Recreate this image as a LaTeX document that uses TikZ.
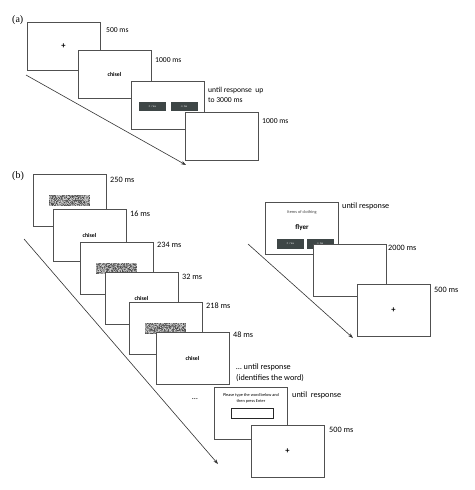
\documentclass[tikz,border=0pt]{standalone}
\usepackage{fontspec}
\setmainfont{Carlito}
\newfontfamily\serifpanel{Liberation Serif}
\usetikzlibrary{arrows.meta}
\definecolor{btn}{RGB}{62,70,70}
\definecolor{frame}{RGB}{80,80,80}
\tikzset{
  scr/.style={draw=frame, line width=1pt, fill=white, minimum width=73pt, minimum height=#1, anchor=north west, inner sep=0pt, outer sep=0pt},
  scr/.default=52pt,
  lab/.style={anchor=base west, inner sep=0pt, font=\fontsize{7.6}{9}\selectfont},
  labb/.style={anchor=base west, inner sep=0pt, font=\fontsize{8.2}{9}\selectfont},
  panel/.style={anchor=base west, inner sep=0pt, font=\serifpanel\fontsize{10}{10}\selectfont},
  word/.style={font=\bfseries\fontsize{5.8}{6}\selectfont, inner sep=0pt},
  btnbox/.style={fill=btn, minimum width=27pt, minimum height=9pt, inner sep=0pt, text=white, font=\fontsize{2.6}{3}\selectfont},
  fix/.style={font=\bfseries\fontsize{8.5}{8}\selectfont, inner sep=0pt},
  arr/.style={draw=black!80, line width=0.6pt, -{Stealth[length=5pt,width=3.5pt]}},
}
\newcommand\noisepatch[1]{%
  \begin{scope}[shift={(#1)}]
    \fill[black!40] (-20.5,-5.5) rectangle (20.5,5.5);
    \foreach \i in {0,...,40}{\foreach \j in {0,...,10}{%
      \pgfmathsetmacro\g{int(18+55*rnd)}%
      \fill[black!\g] (-20.5+\i,-5.5+\j) rectangle ++(1,1);
    }}
  \end{scope}}
\begin{document}
\begin{tikzpicture}[x=1pt,y=-1pt]
\pgfmathsetseed{7}
\useasboundingbox[fill=white] (0,0) rectangle (474,490);

% ---------- (a)
\node[panel] (pa) at (12,22) {(a)};
\coordinate (aS) at (26,75);
\coordinate (aE) at (186,165);
\draw[arr] (aS) -- (aE);

\node[scr=48pt] (a1) at (27,22) {};
\node[fix] (a1c) at (a1.center) {+};
\node[lab] (a1l) at (106,32.5) {500 ms};

\node[scr=48pt] (a2) at (78,50) {};
\node[word] (a2c) at (a2.center) {chisel};
\node[lab] (a2l) at (155,62) {1000 ms};

\node[scr=48pt] (a3) at (131,81) {};
\node[btnbox] (a3y) at (152.5,106.5) {F = Yes};
\node[btnbox] (a3n) at (184,106.5) {J = No};
\node[lab] (a3l) at (208,92) {until response\ \ up};
\node[lab] (a3m) at (208,102) {to 3000 ms};

\node[scr=48pt] (a4) at (185.5,112) {};
\node[lab] (a4l) at (262,123.5) {1000 ms};

% ---------- (b)
\node[panel] (pb) at (12,178) {(b)};
\coordinate (bS) at (24,239);
\coordinate (bE) at (218,464);
\draw[arr] (bS) -- (bE);
\coordinate (rS) at (248,244);
\coordinate (rE) at (353,338);
\draw[arr] (rS) -- (rE);

\node[scr] (b1) at (33,174) {};
\noisepatch{b1.center}
\node[labb] (b1l) at (110,182) {250 ms};

\node[scr] (b2) at (53,209) {};
\node[word] (b2c) at (b2.center) {chisel};
\node[labb] (b2l) at (130,216) {16 ms};

\node[scr] (b3) at (80,242) {};
\noisepatch{b3.center}
\node[labb] (b3l) at (157,247.5) {234 ms};

\node[scr] (b4) at (105,272) {};
\node[word] (b4c) at (b4.center) {chisel};
\node[labb] (b4l) at (182,279) {32 ms};

\node[scr] (b5) at (129,302) {};
\noisepatch{b5.center}
\node[labb] (b5l) at (206,308) {218 ms};

\node[scr] (b6) at (156,332) {};
\node[word] (b6c) at (b6.center) {chisel};
\node[labb] (b6l) at (233,337) {48 ms};
\node[labb] (b6m) at (236,369) {\dots\ until response};
\node[labb] (b6n) at (236,380) {(identifies the word)};

\node[labb] (dots) at (192,399) {\dots};

\node[scr] (b7) at (214,387) {};
\node[inner sep=0pt, align=center, font=\fontsize{4.3}{5.5}\selectfont] (b7t) at (251,398.5) {Please type the word below and\\then press Enter};
\node[draw=black!85, line width=1pt, minimum width=42pt, minimum height=10pt, inner sep=0pt] (b7i) at (252,413) {};
\node[labb] (b7l) at (292,397) {until\ \ response};

\node[scr] (b8) at (251,425) {};
\node[fix] (b8c) at (b8.center) {+};
\node[labb] (b8l) at (329,432) {500 ms};

% ---------- right sequence
\node[scr] (r1) at (265,202) {};
\node[inner sep=0pt, font=\fontsize{4.3}{5}\selectfont, text=black!75] (r1t) at (302,212) {Items of clothing};
\node[inner sep=0pt, font=\bfseries\fontsize{7}{7}\selectfont] (r1w) at (302,228) {flyer};
\node[btnbox, minimum height=10pt] (r1y) at (290.5,244) {F = Yes};
\node[btnbox, minimum height=10pt] (r1n) at (320,244) {J = No};
\node[labb] (r1l) at (342,208) {until response};

\node[scr] (r2) at (313,244) {};
\node[labb] (r2l) at (388,250) {2000 ms};

\node[scr] (r3) at (357,284) {};
\node[fix] (r3c) at (r3.center) {+};
\node[labb] (r3l) at (434,292) {500 ms};
\end{tikzpicture}
\end{document}
